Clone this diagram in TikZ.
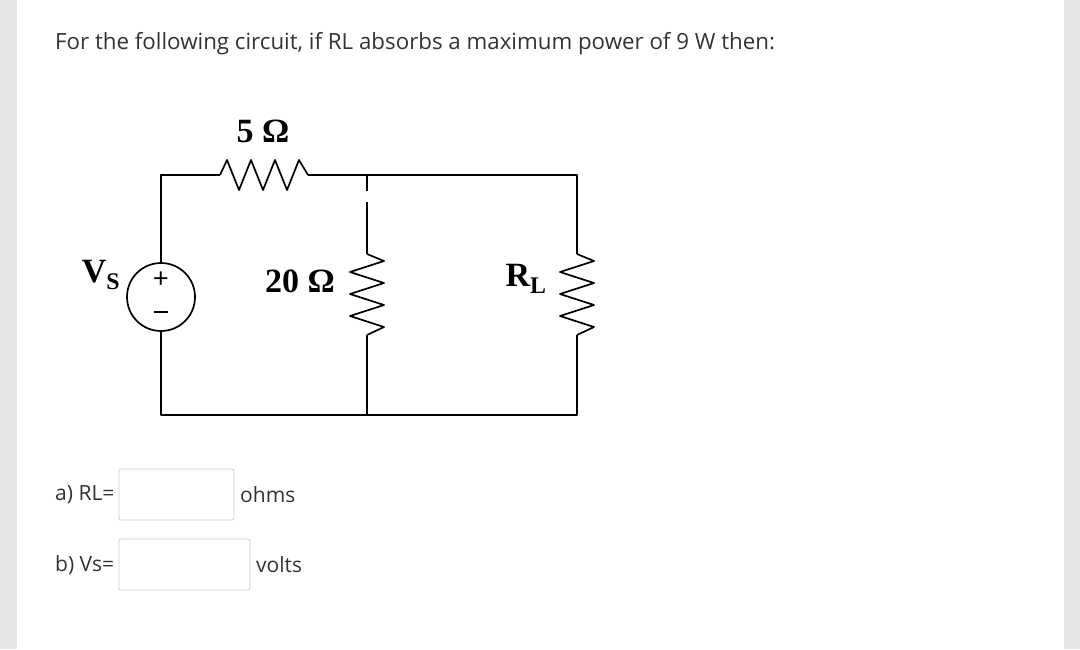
\documentclass[tikz,border=0pt]{standalone}
\usepackage{fontspec}
\setmainfont{Open Sans}
\newfontfamily\serifb{Liberation Serif}
\definecolor{txt}{HTML}{333333}
\definecolor{strip}{HTML}{E6E6E6}
\definecolor{boxc}{HTML}{CCCCCC}
\begin{document}
\begin{tikzpicture}[x=1pt,y=-1pt,
  wire/.style={line width=1.7pt,black,line join=round},
  lbl/.style={font=\serifb\bfseries\fontsize{34}{34}\selectfont,inner sep=0pt},
  ui/.style={font=\fontsize{21}{21}\selectfont,text=txt,inner sep=0pt},
  inbox/.style={draw=boxc,rounded corners=2pt,line width=0.8pt}]
\useasboundingbox (0,0) rectangle (1080,649);
\fill[white] (0,0) rectangle (1080,649);
\fill[strip] (0,0) rectangle (17,649);
\fill[strip] (1064,0) rectangle (1080,649);
\node[font=\fontsize{22.3}{22.3}\selectfont,text=txt,anchor=west,inner sep=0pt] (q) at (55,44) {For the following circuit, if RL absorbs a maximum power of 9 W then:};
% nodes/coordinates
\coordinate (tl) at (161,175);
\coordinate (r1a) at (220,175);
\coordinate (r1b) at (308,175);
\coordinate (tm) at (367,175);
\coordinate (tr) at (577,175);
\coordinate (bl) at (161,415);
\coordinate (bm) at (367,415);
\coordinate (br) at (577,415);
\coordinate (ma) at (367,254);
\coordinate (mb) at (367,335);
\coordinate (ra) at (577,254);
\coordinate (rb) at (577,335);
\node[circle,draw,line width=1.7pt,minimum size=68pt,inner sep=0pt] (vs) at (161,297) {};
\node[font=\fontsize{28}{28}\selectfont,inner sep=0pt] (plus) at (161,280) {+};
\coordinate (m1) at (154,312);
\coordinate (m2) at (168,312);
\draw[wire] (m1) -- (m2);
% wires
\draw[wire] (vs.north) -- (tl) -- (r1a);
\draw[wire] (r1a) -- ++(7,-15) -- ++(12,30) -- ++(12,-30) -- ++(12,30) -- ++(12,-30) -- ++(12,30) -- ++(12,-30) -- (r1b);
\draw[wire] (r1b) -- (tr) -- (ra);
\draw[wire] (tm) -- (367,191);
\draw[wire] (367,202) -- (ma);
\draw[wire] (ma) -- ++(17,7) -- ++(-34,11) -- ++(34,11) -- ++(-34,11) -- ++(34,11) -- ++(-34,11) -- ++(34,11) -- (mb);
\draw[wire] (ra) -- ++(17,7) -- ++(-34,11) -- ++(34,11) -- ++(-34,11) -- ++(34,11) -- ++(-34,11) -- ++(34,11) -- (rb);
\draw[wire] (mb) -- (bm);
\draw[wire] (rb) -- (br) -- (bl) -- (vs.south);
% labels
\node[lbl] (l5) at (263,131) {5 Ω};
\node[lbl] (l20) at (300,281) {20 Ω};
\node[lbl] (lvs) at (101,275) {V\textsubscript{S}};
\node[lbl] (lrl) at (526,279) {R\textsubscript{L}};
% answer rows
\node[ui,anchor=west] (a) at (55,495) {a) RL=};
\draw[inbox] (119,469) rectangle (234,520);
\node[ui,anchor=west] (ao) at (240,495) {ohms};
\node[ui,anchor=west] (b) at (55,565) {b) Vs=};
\draw[inbox] (119,539) rectangle (250,590);
\node[ui,anchor=west] (bv) at (256,565) {volts};
\end{tikzpicture}
\end{document}
